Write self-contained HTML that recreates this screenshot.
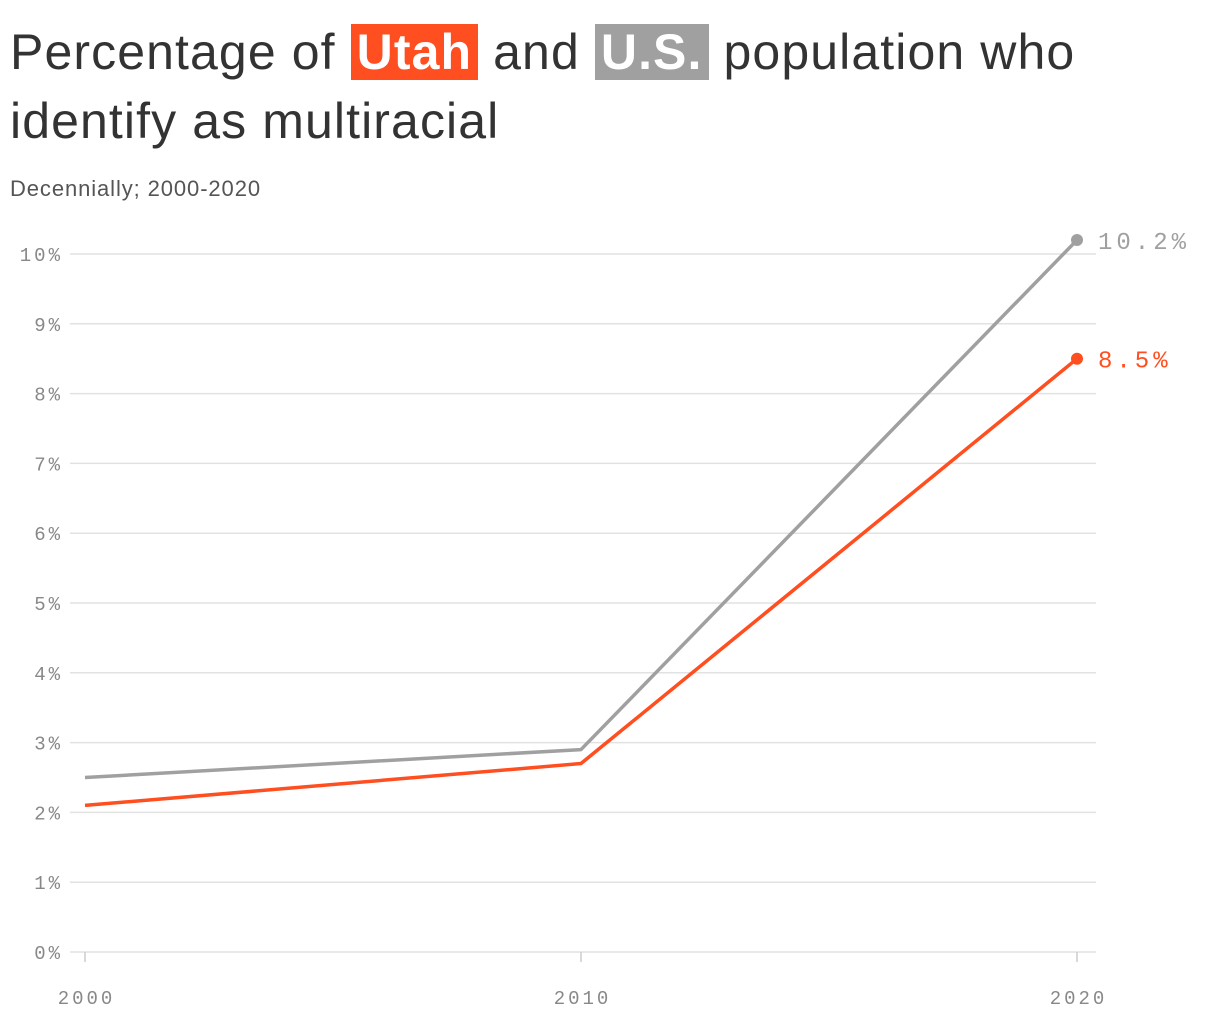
<!DOCTYPE html>
<html><head><meta charset="utf-8">
<style>
html,body{margin:0;padding:0;background:#fff;width:1220px;height:1020px;overflow:hidden}
#title{position:absolute;left:10px;top:18px;font-family:"Liberation Sans",sans-serif;font-size:50px;line-height:69px;color:#333;letter-spacing:1.1px}
.hl{color:#fff;padding:0 6px;font-weight:bold}
#sub{position:absolute;left:10px;top:176px;font-family:"Liberation Sans",sans-serif;font-size:22px;color:#555;letter-spacing:0.9px}
svg{position:absolute;left:0;top:0}
</style></head><body>
<div id="title">Percentage of <span class="hl" style="background:#ff4e1f">Utah</span> and <span class="hl" style="background:#a0a0a0">U.S.</span> population who<br>identify as multiracial</div>
<div id="sub">Decennially; 2000-2020</div>
<svg id="chart" width="1220" height="1020"></svg>
<script>
const years=[2000,2010,2020];
const usValues=[2.5,2.9,10.2];
const utahValues=[2.1,2.7,8.5];
const yTicks=[0,1,2,3,4,5,6,7,8,9,10];
const svg=document.getElementById('chart');
const NS='http://www.w3.org/2000/svg';
function x(v){return 85+(v-2000)*49.6;}
function y(v){return 952-v*69.8;}
function mk(t,a){const e=document.createElementNS(NS,t);for(const k in a)e.setAttribute(k,a[k]);svg.appendChild(e);return e;}
const mono='"Liberation Mono",monospace';
yTicks.forEach(t=>{
  const l=mk('line',{x1:70,x2:1096,y1:y(t),y2:y(t),stroke:'#e2e2e2','stroke-width':1.5});
  
  
  const tx=mk('text',{x:63,y:y(t)+7,'text-anchor':'end','font-family':mono,'font-size':19,fill:'#888','letter-spacing':3});
  tx.textContent=t+'%';
  
  
});
years.forEach(yr=>{
  const l=mk('line',{x1:x(yr),x2:x(yr),y1:952,y2:962,stroke:'#ccc','stroke-width':1.5});
  
  
  const tx=mk('text',{x:x(yr)+1.5,y:1004,'text-anchor':'middle','font-family':mono,'font-size':19,fill:'#888','letter-spacing':3});
  tx.textContent=yr;
  
  
});
function series(vals,color,name){
  const p=mk('polyline',{points:vals.map((v,i)=>x(years[i])+','+y(v)).join(' '),fill:'none',stroke:color,'stroke-width':3.5,'stroke-linejoin':'round'});
  
  
  const last=vals.length-1;
  const c=mk('circle',{cx:x(years[last]),cy:y(vals[last]),r:6,fill:color});
  
  
  const t=mk('text',{x:x(years[last])+21,y:y(vals[last])+9,'font-family':mono,'font-size':24,fill:color,'letter-spacing':4});
  t.textContent=vals[last]+'%';
  
  
}
series(usValues,'#a0a0a0','us');
series(utahValues,'#ff4e1f','utah');
</script>
</body></html>
